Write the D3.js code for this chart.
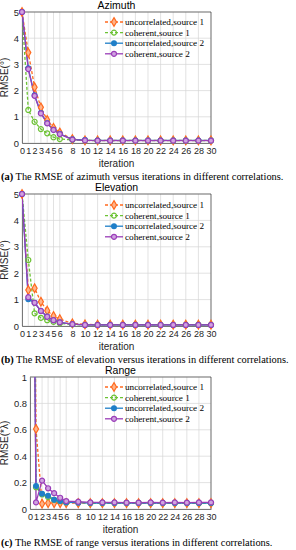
<!DOCTYPE html>
<html lang="en">
<head>
<meta charset="UTF-8">
<title>RMSE vs iterations</title>
<script src="https://d3js.org/d3.v7.min.js"></script>
<style>
    body { margin: 0; background: #fff; }
    .tick text { font-family: "Liberation Sans", Arial, sans-serif; font-size: 9.4px; fill: #262626; }
    .xax .tick text { font-size: 9px; }
    .ttl { font-family: "Liberation Sans", Arial, sans-serif; font-size: 10.5px; fill: #000; }
    .lab { font-family: "Liberation Sans", Arial, sans-serif; font-size: 10px; fill: #262626; }
    .leg { font-family: "Liberation Serif", "Times New Roman", serif; font-size: 9.2px; fill: #000; }
    .cap { font-family: "Liberation Serif", "Times New Roman", serif; font-size: 10.4px; fill: #000; }
</style>
</head>
<body>
<svg width="296" height="550"></svg>
<script>
    // iterations and x ticks
    const iters = [0, 1, 2, 3, 4, 5, 6, 8, 10, 12, 14, 16, 18, 20, 22, 24, 26, 28, 30];
    const xTicks = [0, 1, 2, 3, 4, 5, 6, 8, 10, 12, 14, 16, 18, 20, 22, 24, 26, 28, 30];

    const seriesNames = ["uncorrelated,source 1", "coherent,source 1", "uncorrelated,source 2", "coherent,source 2"];

    // (a) azimuth
    const azUncorr1 = [5, 3.45, 2.13, 1.36, 0.88, 0.58, 0.40, 0.15, 0.10, 0.10, 0.10, 0.10, 0.10, 0.10, 0.10, 0.10, 0.10, 0.10, 0.10];
    const azCoh1    = [5, 1.26, 0.81, 0.53, 0.37, 0.22, 0.15, 0.12, 0.10, 0.09, 0.09, 0.09, 0.09, 0.09, 0.09, 0.09, 0.09, 0.09, 0.09];
    const azUncorr2 = [5, 2.85, 1.82, 1.15, 0.76, 0.51, 0.35, 0.14, 0.11, 0.10, 0.10, 0.10, 0.10, 0.10, 0.10, 0.10, 0.10, 0.10, 0.10];
    const azCoh2    = [5, 2.82, 1.80, 1.13, 0.75, 0.50, 0.34, 0.13, 0.10, 0.09, 0.09, 0.09, 0.09, 0.09, 0.09, 0.09, 0.09, 0.09, 0.09];

    // (b) elevation
    const elUncorr1 = [5, 1.36, 1.43, 0.92, 0.58, 0.38, 0.26, 0.10, 0.06, 0.05, 0.05, 0.05, 0.05, 0.05, 0.05, 0.05, 0.05, 0.05, 0.05];
    const elCoh1    = [5, 2.50, 0.48, 0.31, 0.22, 0.16, 0.10, 0.06, 0.04, 0.04, 0.04, 0.04, 0.04, 0.04, 0.04, 0.04, 0.04, 0.04, 0.04];
    const elUncorr2 = [5, 1.01, 0.88, 0.57, 0.36, 0.22, 0.14, 0.07, 0.04, 0.04, 0.04, 0.04, 0.04, 0.04, 0.04, 0.04, 0.04, 0.04, 0.04];
    const elCoh2    = [5, 1.09, 0.88, 0.57, 0.35, 0.22, 0.14, 0.07, 0.04, 0.04, 0.04, 0.04, 0.04, 0.04, 0.04, 0.04, 0.04, 0.04, 0.04];

    // (c) range
    const rgUncorr1 = [5, 0.606, 0.040, 0.045, 0.045, 0.045, 0.045, 0.045, 0.045, 0.045, 0.045, 0.045, 0.045, 0.045, 0.045, 0.045, 0.045, 0.045, 0.045];
    const rgCoh1    = [5, 0.165, 0.110, 0.090, 0.070, 0.060, 0.050, 0.050, 0.045, 0.045, 0.045, 0.045, 0.045, 0.045, 0.045, 0.045, 0.045, 0.045, 0.045];
    const rgUncorr2 = [5, 0.175, 0.115, 0.100, 0.070, 0.060, 0.050, 0.048, 0.045, 0.045, 0.045, 0.045, 0.045, 0.045, 0.045, 0.045, 0.045, 0.045, 0.045];
    const rgCoh2    = [5, 0.050, 0.215, 0.157, 0.120, 0.085, 0.060, 0.055, 0.050, 0.050, 0.050, 0.048, 0.048, 0.050, 0.048, 0.050, 0.048, 0.050, 0.050];

    const colors = ["#FF6A1F", "#6CC234", "#1F7FC8", "#9A3DB8"];
    const dashes = ["3,2", "3,2", null, null];

    const svg = d3.select("svg");

    function panel(cfg) {
        const x = d3.scaleLinear().domain([0, 30]).range([cfg.left, 211]);
        const y = d3.scaleLinear().domain(cfg.yDomain).range([cfg.bottom, cfg.top]);
        const g = svg.append("g");
        const id = "clip" + cfg.key;

        g.append("clipPath").attr("id", id).append("rect")
            .attr("x", cfg.left).attr("y", cfg.top)
            .attr("width", 211 - cfg.left).attr("height", cfg.bottom - cfg.top);

        // grid
        g.append("g").selectAll("line").data(xTicks).join("line")
            .attr("x1", d => x(d)).attr("x2", d => x(d))
            .attr("y1", cfg.top).attr("y2", cfg.bottom)
            .attr("stroke", "#d6d6d6").attr("stroke-width", 0.7);
        g.append("g").selectAll("line").data(cfg.yTicks).join("line")
            .attr("x1", cfg.left).attr("x2", 211)
            .attr("y1", d => y(d)).attr("y2", d => y(d))
            .attr("stroke", "#d6d6d6").attr("stroke-width", 0.7);

        // axes
        const xa = g.append("g").attr("class", "xax").attr("transform", `translate(0,${cfg.bottom})`)
            .call(d3.axisBottom(x).tickValues(xTicks).tickSize(0).tickPadding(5).tickFormat(d3.format("d")));
        xa.select(".domain").attr("stroke", "#262626").attr("stroke-width", 0.6);
        const ya = g.append("g").attr("transform", `translate(${cfg.left},0)`)
            .call(d3.axisLeft(y).tickValues(cfg.yTicks).tickSize(0).tickPadding(3).tickFormat(cfg.yFmt));
        ya.select(".domain").attr("stroke", "#262626").attr("stroke-width", 0.6);
        g.append("line").attr("x1", 211).attr("x2", 211).attr("y1", cfg.top).attr("y2", cfg.bottom)
            .attr("stroke", "#262626").attr("stroke-width", 0.6);
        g.append("line").attr("x1", cfg.left).attr("x2", 211).attr("y1", cfg.top).attr("y2", cfg.top)
            .attr("stroke", "#262626").attr("stroke-width", 0.6);

        // series
        const line = d3.line().x((d, i) => x(iters[i])).y(d => y(d));
        const plot = g.append("g").attr("clip-path", `url(#${id})`);
        cfg.series.forEach((vals, k) => {
            plot.append("path").attr("d", line(vals)).attr("fill", "none")
                .attr("stroke", colors[k]).attr("stroke-width", 1.3)
                .attr("stroke-dasharray", dashes[k]);
        });
        const mg = g.append("g");
        cfg.series.forEach((vals, k) => {
            const pts = vals.map((v, i) => [iters[i], v]).filter(p => p[1] <= cfg.yDomain[1]);
            mg.append("g").selectAll("path").data(pts).join("path")
                .attr("transform", d => `translate(${x(d[0])},${y(d[1])})`)
                .attr("d", marker(k)).attr("fill", fillOf(k))
                .attr("stroke", colors[k]).attr("stroke-width", 1.2);
        });

        // legend
        const lg = g.append("g");
        seriesNames.forEach((name, k) => {
            const ly = cfg.legY + k * 10.6;
            lg.append("line").attr("x1", 105).attr("x2", 123).attr("y1", ly).attr("y2", ly)
                .attr("stroke", colors[k]).attr("stroke-width", 1.3).attr("stroke-dasharray", dashes[k]);
            lg.append("path").attr("transform", `translate(114,${ly})`).attr("d", marker(k))
                .attr("fill", fillOf(k)).attr("stroke", colors[k]).attr("stroke-width", 1.2);
            lg.append("text").attr("class", "leg").attr("x", 125).attr("y", ly + 3).text(name);
        });

        // texts
        g.append("text").attr("class", "ttl").attr("x", (cfg.left + 211) / 2).attr("y", cfg.top - 3)
            .attr("text-anchor", "middle").text(cfg.title);
        g.append("text").attr("class", "lab").attr("x", (cfg.left + 211) / 2).attr("y", cfg.bottom + 24)
            .attr("text-anchor", "middle").text("iteration");
        g.append("text").attr("class", "lab")
            .attr("transform", `translate(${cfg.yLabX},${(cfg.top + cfg.bottom) / 2}) rotate(-90)`)
            .attr("text-anchor", "middle").text(cfg.yLabel);
        const cap = g.append("text").attr("class", "cap").attr("x", 1).attr("y", cfg.bottom + 37);
        cap.append("tspan").attr("font-weight", "bold").text(cfg.capTag);
        cap.append("tspan").text(" " + cfg.caption);
    }

    function marker(k) {
        if (k === 0) return d3.symbol(d3.symbolDiamond, 22)();
        if (k === 2) return d3.symbol(d3.symbolCircle, 18)();
        return d3.symbol(d3.symbolCircle, 20)();
    }
    function fillOf(k) {
        if (k === 0) return "#ffb48a";
        if (k === 1) return "none";
        if (k === 2) return "#1F7FC8";
        return "#cfa3e0";
    }

    panel({
        key: "a", left: 22, top: 12, bottom: 143, yDomain: [0, 5], yTicks: [0, 1, 2, 3, 4, 5],
        yFmt: d3.format("d"), title: "Azimuth", yLabel: "RMSE(°)", yLabX: 8, legY: 22,
        series: [azUncorr1, azCoh1, azUncorr2, azCoh2],
        capTag: "(a)", caption: "The RMSE of azimuth versus iterations in different correlations."
    });
    panel({
        key: "b", left: 22, top: 194, bottom: 326, yDomain: [0, 5], yTicks: [0, 1, 2, 3, 4, 5],
        yFmt: d3.format("d"), title: "Elevation", yLabel: "RMSE(°)", yLabX: 8, legY: 205,
        series: [elUncorr1, elCoh1, elUncorr2, elCoh2],
        capTag: "(b)", caption: "The RMSE of elevation versus iterations in different correlations."
    });
    panel({
        key: "c", left: 30, top: 377, bottom: 509, yDomain: [0, 1], yTicks: [0, 0.2, 0.4, 0.6, 0.8, 1],
        yFmt: d => d === 0 || d === 1 ? String(d) : d3.format(".1f")(d), title: "Range", yLabel: "RMSE(*λ)", yLabX: 8, legY: 387,
        series: [rgUncorr1, rgCoh1, rgUncorr2, rgCoh2],
        capTag: "(c)", caption: "The RMSE of range versus iterations in different correlations."
    });
</script>
</body>
</html>
